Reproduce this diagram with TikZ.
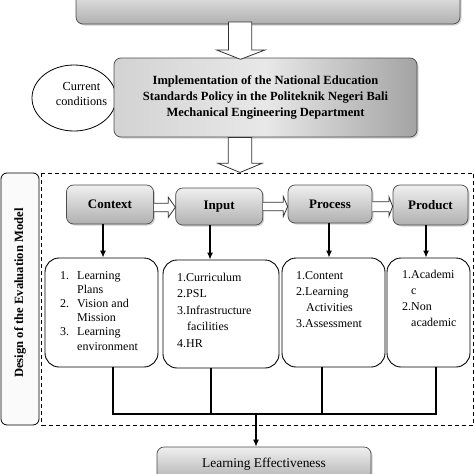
\documentclass[tikz,border=0pt]{standalone}
\usepackage{fontspec}
\setmainfont{Liberation Serif}
\usetikzlibrary{shadows,shapes.geometric,arrows.meta}
\tikzset{
  gradbox/.style={rounded corners=7pt, draw=black!70, line width=0.7pt,
    top color=gray!12, bottom color=gray!62,
    drop shadow={opacity=0.35, shadow xshift=1.5pt, shadow yshift=-1.5pt},
    inner sep=0pt, align=center},
  headbox/.style={gradbox, font=\fontsize{13}{15}\selectfont\bfseries},
  listbox/.style={rounded corners=14pt, draw=black, line width=0.9pt, fill=white, inner sep=0pt},
  listtext/.style={anchor=base west, inner sep=0pt, font=\fontsize{12}{14.2}\selectfont},
  hollow/.style={draw=black!80, line width=0.8pt, fill=white},
  thinarrow/.style={line width=1.2pt, -{Latex[length=7pt,width=6pt]}},
  joinline/.style={line width=1.4pt},
}
\begin{document}
\begin{tikzpicture}[x=1pt,y=-1pt]
\useasboundingbox (0,0) rectangle (474,474);

% top box (text cut off)
\node[gradbox, minimum width=384pt, minimum height=38pt] (top) at (268,5) {};

% current conditions ellipse
\node[ellipse, draw=black, line width=0.8pt, fill=white, minimum width=84pt, minimum height=66pt,
  inner sep=0pt] (cur) at (74,98) {};
\node[align=center, inner sep=0pt, font=\fontsize{12.3}{15}\selectfont] (curt) at (81.5,93.5)
  {Current\\conditions};

% main box
\node[gradbox, minimum width=303pt, minimum height=79pt,
  font=\fontsize{12.5}{16}\selectfont\bfseries,
  left color=gray!35, right color=gray!72, middle color=gray!18] (main) at (265.5,97.5)
  {Implementation of the National Education\\Standards Policy in the Politeknik Negeri Bali\\Mechanical Engineering Department};

% hollow down arrows
\draw[hollow] (228.5,22) -- (251.8,22) -- (251.8,50) -- (265,50) -- (240.5,59.3) -- (216.7,50) -- (228.5,50) -- cycle;
\draw[hollow] (228.3,137.5) -- (251.7,137.5) -- (251.7,163.3) -- (262,163.3) -- (240,172.5) -- (218,163.3) -- (228.3,163.3) -- cycle;

% dashed frame
\draw[dashed, line width=0.9pt, dash pattern=on 4pt off 3pt] (41.5,173) rectangle (473.5,425);

% left label
\node[draw=black, line width=0.8pt, rounded corners=6pt, fill=gray!4,
  minimum width=38pt, minimum height=252pt, inner sep=0pt] (lab) at (20,299) {};
\node[rotate=90, font=\fontsize{12.6}{15}\selectfont\bfseries, inner sep=0pt] (labt) at (20,293)
  {Design of the Evaluation Model};

% headers
\node[headbox, minimum width=87pt, minimum height=39pt] (ctx) at (110,204.5) {Context};
\node[headbox, minimum width=87pt, minimum height=37pt] (inp) at (219.2,206.5) {Input};
\node[headbox, minimum width=84pt, minimum height=38pt] (pro) at (330,204) {Process};
\node[headbox, minimum width=75pt, minimum height=40pt] (prd) at (430.5,205) {Product};

% horizontal hollow arrows
\draw[hollow] (ctx.east |- 0,203.3) -- (168.3,203.3) -- (168.3,197.3) -- (inp.west |- 0,207.3) -- (168.3,217.3) -- (168.3,211.7) -- (ctx.east |- 0,211.7);
\draw[hollow] (inp.east |- 0,202.3) -- (283.3,202.3) -- (283.3,196.5) -- (pro.west |- 0,206.5) -- (283.3,216.5) -- (283.3,210.7) -- (inp.east |- 0,210.7);
\draw[hollow] (pro.east |- 0,201.7) -- (389,201.7) -- (389,197) -- (prd.west |- 0,206.5) -- (389,216) -- (389,211.7) -- (pro.east |- 0,211.7);

% list boxes
\node[listbox, minimum width=113pt, minimum height=109pt] (ctxl) at (101.5,312.5) {};
\node[listbox, minimum width=116pt, minimum height=108pt] (inpl) at (221,314) {};
\node[listbox, minimum width=103pt, minimum height=109pt] (prol) at (333.5,312.5) {};
\node[listbox, minimum width=83pt, minimum height=109pt] (prdl) at (428.5,312.5) {};

% thin arrows
\coordinate (a1) at (103,224);
\coordinate (a2) at (210,225);
\coordinate (a3) at (329,223);
\coordinate (a4) at (426,225);
\draw[thinarrow] (a1) -- (a1 |- ctxl.north);
\draw[thinarrow] (a2) -- (a2 |- inpl.north);
\draw[thinarrow] (a3) -- (a3 |- prol.north);
\draw[thinarrow] (a4) -- (a4 |- prdl.north);

% list texts
\node[listtext] (t1) at (60,279) {\begin{tabular}[t]{@{}l@{\hspace{8pt}}l@{}}1. & Learning\\ & Plans\\ 2. & Vision and\\ & Mission\\ 3. & Learning\\ & environment\end{tabular}};
\node[listtext, font=\fontsize{12}{16.5}\selectfont] (t2) at (177,281) {\begin{tabular}[t]{@{}l@{}}1.Curriculum\\2.PSL\\3.Infrastructure\\\hspace*{10pt}facilities\\4.HR\end{tabular}};
\node[listtext, font=\fontsize{12}{16}\selectfont] (t3) at (296,279) {\begin{tabular}[t]{@{}l@{}}1.Content\\2.Learning\\\hspace*{10pt}Activities\\3.Assessment\end{tabular}};
\node[listtext, font=\fontsize{12}{16}\selectfont] (t4) at (402,278) {\begin{tabular}[t]{@{}l@{}}1.Academi\\\hspace*{9pt}c\\2.Non\\\hspace*{9pt}academic\end{tabular}};

% joining lines
\coordinate (b1) at (113,0);
\coordinate (b2) at (211,0);
\coordinate (b3) at (322,0);
\coordinate (b4) at (436,0);
\coordinate (jl) at (113,414);
\coordinate (jr) at (436,414);
\coordinate (jm) at (256,414);
\draw[joinline] (b1 |- ctxl.south) -- (jl) -- (jr) -- (b4 |- prdl.south);
\draw[joinline] (b2 |- inpl.south) -- (b2 |- jl);
\draw[joinline] (b3 |- prol.south) -- (b3 |- jl);

% bottom box
\node[gradbox, minimum width=214pt, minimum height=34pt, font=\fontsize{13.4}{15}\selectfont] (eff) at (264,464)
  {Learning Effectiveness};
\draw[thinarrow] (jm) -- (jm |- eff.north);
\end{tikzpicture}
\end{document}
